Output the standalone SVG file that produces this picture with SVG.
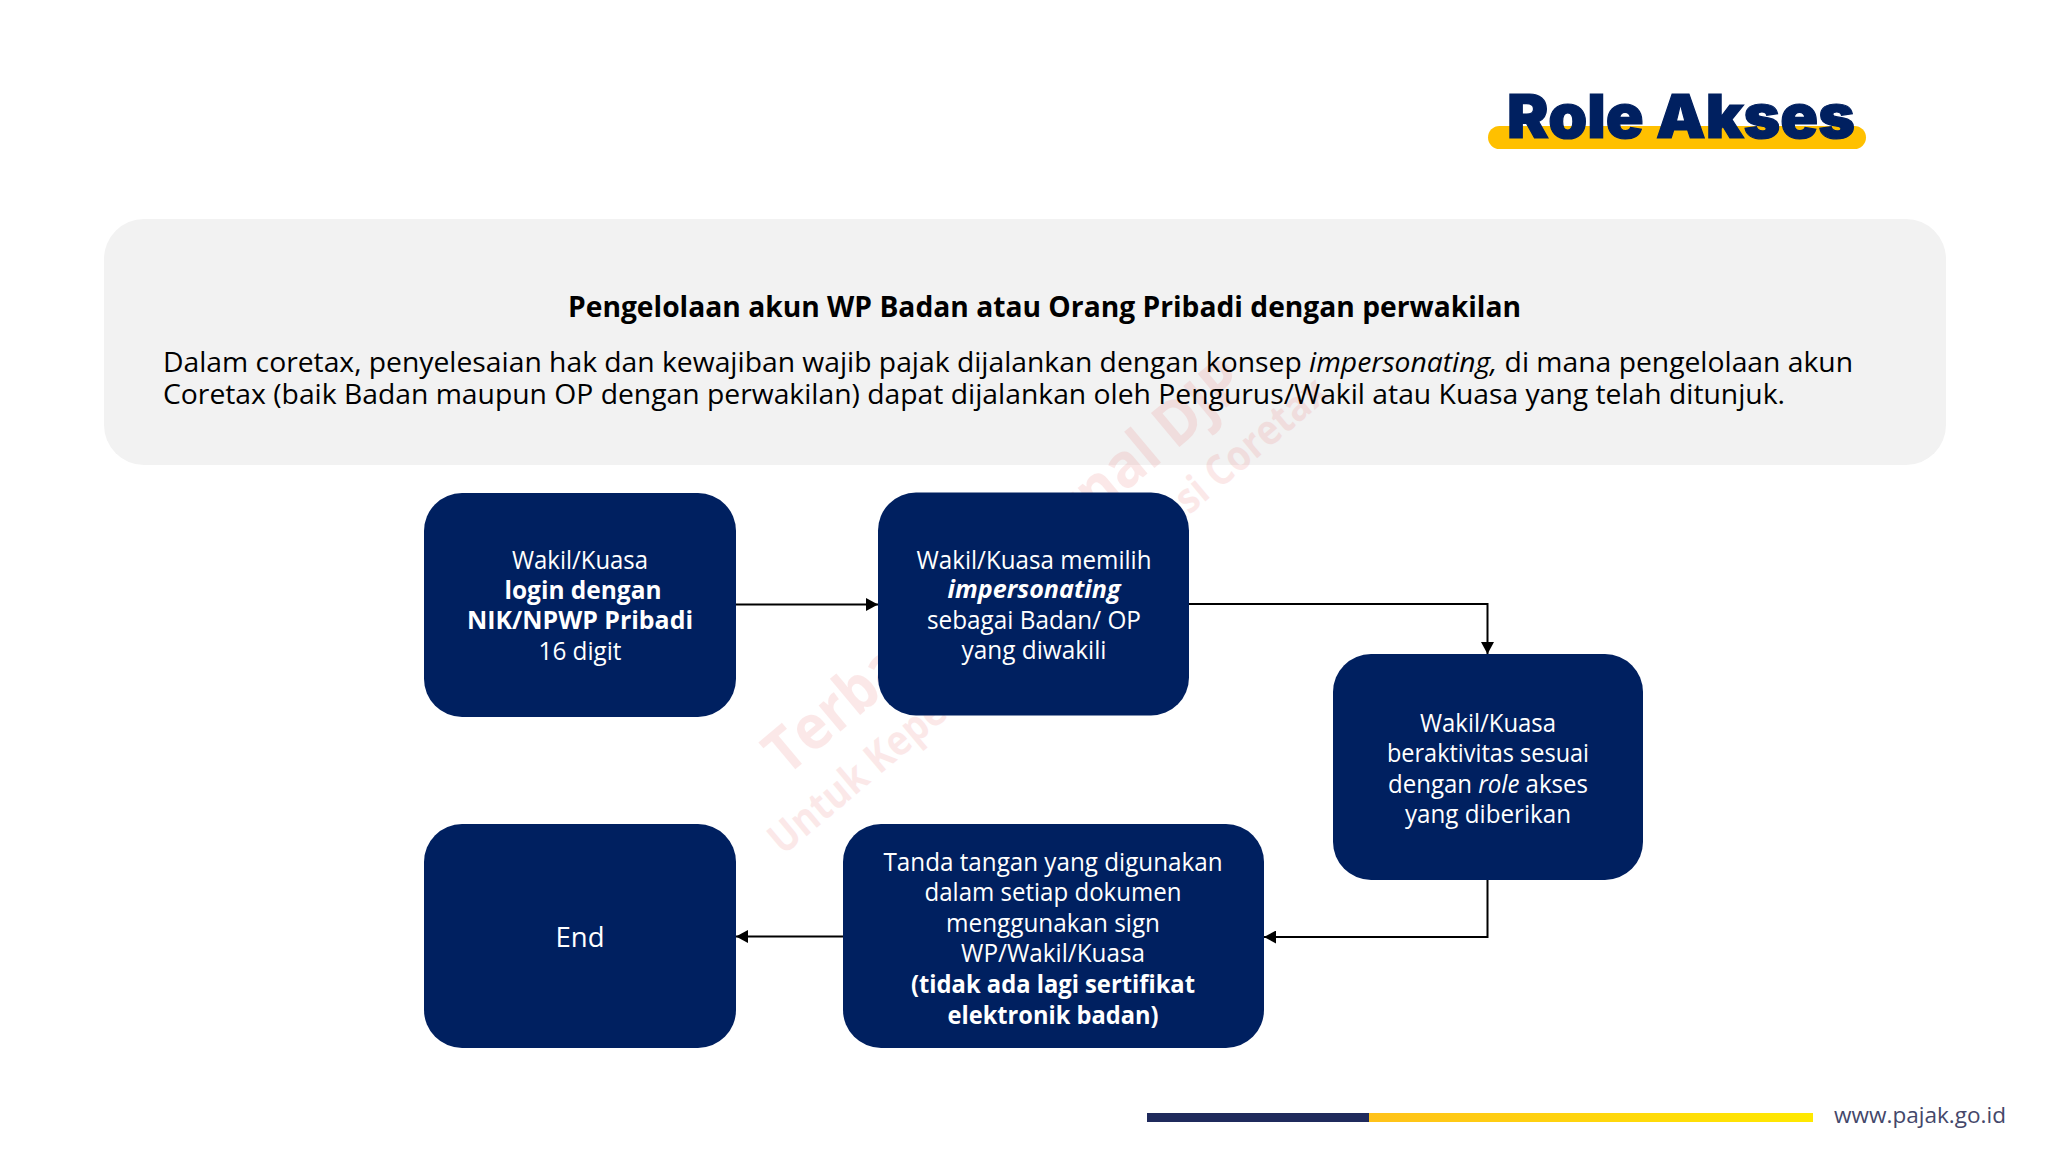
<svg xmlns="http://www.w3.org/2000/svg" width="2048" height="1152" viewBox="0 0 2048 1152">
<style>
text{font-family:"Open Sans","Noto Sans","Liberation Sans",sans-serif}
.box{fill:#002060}
.t{fill:#fff;font-size:25px;text-anchor:middle;font-weight:400}
.t.b{font-weight:700}
.b{font-weight:700}
.i{font-style:italic}
.p{fill:#000;font-size:28px;font-weight:400}
.p.b{font-weight:700}
.c{fill:none;stroke:#000;stroke-width:2}
.wm{fill:#e23b3b;opacity:.11;font-weight:700}
</style>
<defs>
<marker id="arr" markerUnits="userSpaceOnUse" markerWidth="13" markerHeight="13" refX="12" refY="6.5" orient="auto"><path d="M0 0L12 6.5L0 13Z" fill="#000"/></marker>
<linearGradient id="gold" x1="0" x2="1" y1="0" y2="0"><stop offset="0" stop-color="#FFC21A"/><stop offset="1" stop-color="#FFE900"/></linearGradient>
</defs>
<rect width="2048" height="1152" fill="#fff"/>
<g id="title">
<rect x="1488" y="126" width="378" height="23" rx="11.5" fill="#FFC000"/>
<text x="1507" y="138" font-size="61" font-weight="900" fill="#002060" stroke="#002060" stroke-width="1.2" textLength="348" lengthAdjust="spacingAndGlyphs" style="font-family:Inter,'Open Sans',sans-serif">Role Akses</text>
</g>
<g id="panel">
<rect x="104" y="219" width="1842" height="246" rx="40" fill="#F2F2F2"/>
<text x="568" y="317" class="p b" textLength="953" lengthAdjust="spacingAndGlyphs" style="font-size:29px">Pengelolaan akun WP Badan atau Orang Pribadi dengan perwakilan</text>
</g>
<g id="watermark">
<text class="wm" transform="translate(786 777) rotate(-40)" font-size="62" textLength="605" lengthAdjust="spacingAndGlyphs">Terbatas Internal DJP</text>
<text class="wm" transform="translate(783 856) rotate(-40)" font-size="42" textLength="715" lengthAdjust="spacingAndGlyphs">Untuk Kepentingan Sosialisasi Coretax</text>
</g>
<g id="panel-text">
<text x="163" y="372" class="p" textLength="1690" lengthAdjust="spacingAndGlyphs">Dalam coretax, penyelesaian hak dan kewajiban wajib pajak dijalankan dengan konsep <tspan class="i">impersonating,</tspan> di mana pengelolaan akun</text>
<text x="163" y="404" class="p" textLength="1622" lengthAdjust="spacingAndGlyphs">Coretax (baik Badan maupun OP dengan perwakilan) dapat dijalankan oleh Pengurus/Wakil atau Kuasa yang telah ditunjuk.</text>
</g>
<g id="connectors">
<path class="c" d="M736 604.5H878" marker-end="url(#arr)"/>
<path class="c" d="M1189 604H1487.5V654" marker-end="url(#arr)"/>
<path class="c" d="M1487.5 880V937H1264" marker-end="url(#arr)"/>
<path class="c" d="M843 936.5H736" marker-end="url(#arr)"/>
</g>
<g id="node1">
<rect class="box" x="424" y="493" width="312" height="224" rx="38"/>
<text class="t" x="580" y="569" textLength="136" lengthAdjust="spacingAndGlyphs">Wakil/Kuasa</text>
<text class="t b" x="583" y="599" textLength="157" lengthAdjust="spacingAndGlyphs">login dengan</text>
<text class="t b" x="580" y="629" textLength="226" lengthAdjust="spacingAndGlyphs">NIK/NPWP Pribadi</text>
<text class="t" x="580" y="660" textLength="83" lengthAdjust="spacingAndGlyphs">16 digit</text>
</g>
<g id="node2">
<rect class="box" x="878" y="492.5" width="311" height="223" rx="38"/>
<text class="t" x="1034" y="568.5" textLength="235" lengthAdjust="spacingAndGlyphs">Wakil/Kuasa memilih</text>
<text class="t b i" x="1034" y="598" textLength="173" lengthAdjust="spacingAndGlyphs">impersonating</text>
<text class="t" x="1034" y="629" textLength="214" lengthAdjust="spacingAndGlyphs">sebagai Badan/ OP</text>
<text class="t" x="1034" y="659" textLength="145" lengthAdjust="spacingAndGlyphs">yang diwakili</text>
</g>
<g id="node3">
<rect class="box" x="1333" y="654" width="310" height="226" rx="38"/>
<text class="t" x="1488" y="732" textLength="136" lengthAdjust="spacingAndGlyphs">Wakil/Kuasa</text>
<text class="t" x="1488" y="762" textLength="202" lengthAdjust="spacingAndGlyphs">beraktivitas sesuai</text>
<text class="t" x="1488" y="793" textLength="200" lengthAdjust="spacingAndGlyphs">dengan <tspan class="i">role</tspan> akses</text>
<text class="t" x="1488" y="823" textLength="166" lengthAdjust="spacingAndGlyphs">yang diberikan</text>
</g>
<g id="node4">
<rect class="box" x="843" y="824" width="421" height="224" rx="38"/>
<text class="t" x="1053" y="871" textLength="339" lengthAdjust="spacingAndGlyphs">Tanda tangan yang digunakan</text>
<text class="t" x="1053" y="901" textLength="257" lengthAdjust="spacingAndGlyphs">dalam setiap dokumen</text>
<text class="t" x="1053" y="931.5" textLength="214" lengthAdjust="spacingAndGlyphs">menggunakan sign</text>
<text class="t" x="1053" y="962" textLength="184" lengthAdjust="spacingAndGlyphs">WP/Wakil/Kuasa</text>
<text class="t b" x="1053" y="992.5" textLength="284" lengthAdjust="spacingAndGlyphs">(tidak ada lagi sertifikat</text>
<text class="t b" x="1053" y="1024" textLength="211" lengthAdjust="spacingAndGlyphs">elektronik badan)</text>
</g>
<g id="node5">
<rect class="box" x="424" y="824" width="312" height="224" rx="38"/>
<text class="t" x="580" y="947" style="font-size:28px" textLength="49" lengthAdjust="spacingAndGlyphs">End</text>
</g>
<g id="footer">
<rect x="1147" y="1113" width="222" height="9" fill="#1F2A5C"/>
<rect x="1369" y="1113" width="444" height="9" fill="url(#gold)"/>
<text x="1834" y="1123" font-size="22" fill="#44476A" textLength="172" lengthAdjust="spacingAndGlyphs">www.pajak.go.id</text>
</g>
</svg>
